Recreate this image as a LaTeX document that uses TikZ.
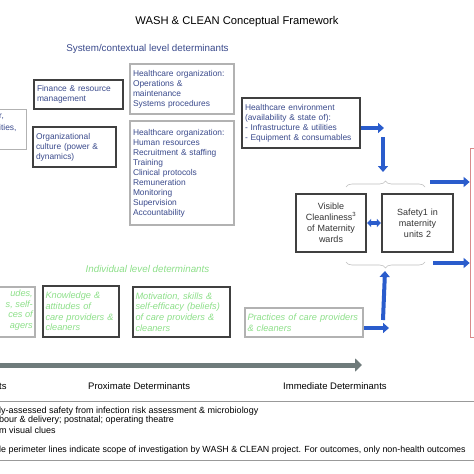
\documentclass[tikz,border=0pt]{standalone}
\usepackage{fontspec}
\setmainfont{Liberation Sans}
\usetikzlibrary{arrows.meta,decorations.pathreplacing}

\definecolor{txtblue}{HTML}{3A4A8C}
\definecolor{txtgreen}{HTML}{8EE08A}
\definecolor{arrblue}{HTML}{2A5CCC}
\definecolor{bigarr}{HTML}{6F7B7B}
\definecolor{outred}{HTML}{D88A8A}

\begin{document}
\begin{tikzpicture}[x=1pt, y=-1pt,
    box/.style = {draw=black!75, line width=2.2pt, rectangle, inner xsep=3pt, inner ysep=2pt, align=left, font=\fontsize{8.4}{10}\selectfont, text=txtblue},
    greybox/.style = {box, draw=gray!60},
    greenbox/.style = {box, inner xsep=2.5pt, text=txtgreen, font=\fontsize{9.2}{10.6}\selectfont\itshape},
    outbox/.style = {box, align=center, text=black!80, font=\fontsize{9}{11}\selectfont},
    barrow/.style = {draw=arrblue, line width=4pt, -{Triangle[length=6pt,width=10pt]}},
    brc/.style = {draw=gray!50, line width=0.6pt, decorate, decoration={brace, amplitude=6pt}},
    note/.style = {anchor=west, font=\fontsize{9}{10}\selectfont, inner sep=0pt}]

    \clip (0,0) rectangle (474,474);
    \fill[white] (0,0) rectangle (474,474);

    % Titles
    \node (title) at (237,22) {\fontsize{11.2}{13}\selectfont WASH \& CLEAN Conceptual Framework};
    \node[text=txtblue] (syslevel) at (147.5,49) {\fontsize{9.8}{11}\selectfont System/contextual level determinants};
    \node[text=txtgreen] (indlevel) at (147.5,269) {\fontsize{9.8}{11}\selectfont\itshape Individual level determinants};

    % System level boxes
    \node[box, draw=gray!60, line width=0.8pt, minimum width=36, minimum height=40] (ctx) at (8,129) {};
    \node[text=txtblue, anchor=west, inner sep=0pt, font=\fontsize{8.4}{10}\selectfont] (ctxa) at (-1,117) {r,};
    \node[text=txtblue, anchor=west, inner sep=0pt, font=\fontsize{8.4}{10}\selectfont] (ctxb) at (-1,128) {ities,};
    \node[box, text width=83, minimum height=29] (fin) at (78.5,94.5) {Finance \& resource\\management};
    \node[greybox, text width=98, minimum height=50] (ops) at (182,89) {Healthcare organization:\\Operations \&\\maintenance\\Systems procedures};
    \node[box, text width=77, minimum height=40] (cult) at (74.5,147) {Organizational\\culture (power \&\\dynamics)};
    \node[greybox, text width=98, minimum height=104] (hr) at (182,173) {Healthcare organization:\\Human resources\\Recruitment \& staffing\\Training\\Clinical protocols\\Remuneration\\Monitoring\\Supervision\\Accountability};
    \node[box, text width=112, minimum height=50] (env) at (301,123) {Healthcare environment\\(availability \& state of):\\- Infrastructure \& utilities\\- Equipment \& consumables};

    % Outcome boxes
    \node[outbox, text width=64, minimum height=58] (vis) at (331,223) {Visible\\Cleanliness\textsuperscript{3}\\of Maternity\\wards};
    \node[outbox, text width=65, minimum height=58] (safe) at (417.5,223) {Safety1 in\\maternity\\units 2};
    \node[draw=outred, line width=0.7pt, minimum width=30, minimum height=189] (outc) at (485,242.5) {};

    % Individual level boxes
    \node[greenbox, draw=gray!60, minimum width=42, minimum height=50] (mgr) at (14,312) {};
    \node[text=txtgreen, anchor=east, align=right, inner sep=0pt, font=\fontsize{9.2}{10.6}\selectfont\itshape] (mgrtxt) at (33,310) {udes,\\s, self-\\ces of\\agers};
    \node[greenbox, text width=71, minimum height=51] (knw) at (81,311.5) {Knowledge \&\\attitudes of\\care providers \&\\cleaners};
    \node[greenbox, text width=92, minimum height=50] (mot) at (181.5,312) {Motivation, skills \&\\self-efficacy (beliefs)\\of care providers \&\\cleaners};
    \node[greenbox, draw=gray!60, text width=113, minimum height=29] (prac) at (304,322.5) {Practices of care providers\\\& cleaners};

    % Braces
    \coordinate (btop) at (385,178);
    \coordinate (bbot) at (385,271);
    \draw[brc] (346,187) -- (425,187);
    \draw[brc] (425,262) -- (346,262);

    % Blue arrows
    \coordinate (envr) at (384,128);
    \coordinate (pracr) at (389,328);
    \draw[barrow] ([yshift=-5pt]env.east) -- (envr);
    \draw[barrow] (383,137) -- (383,172);
    \draw[barrow] (383,320) -- (bbot);
    \draw[barrow] ([yshift=-5.5pt]prac.east) -- (pracr);
    \draw[draw=arrblue, line width=4pt, {Triangle[length=4pt,width=8pt]}-{Triangle[length=4pt,width=8pt]}] (vis.east) -- (safe.west);
    \draw[barrow] (430,182) -- (outc.west |- 0,182);
    \draw[barrow] (433,263) -- (outc.west |- 0,263);

    % Determinant axis
    \coordinate (axs) at (-5,365);
    \coordinate (axe) at (362,365);
    \draw[draw=bigarr, line width=5pt, -{Triangle[length=7pt,width=13pt]}] (axs) -- (axe);
    \node[note, font=\fontsize{9.5}{11}\selectfont] (dist) at (-1,386) {ts};
    \node[note, font=\fontsize{9.5}{11}\selectfont] (prox) at (88,386) {Proximate Determinants};
    \node[note, font=\fontsize{9.5}{11}\selectfont] (imm) at (283,386) {Immediate Determinants};

    % Footnotes
    \draw[gray!80, line width=0.8pt] (0,401) -- (474,401);
    \node[note] (fn1) at (-1,411) {ly-assessed safety from infection risk assessment \& microbiology};
    \node[note] (fn2) at (-1,420.5) {bour \& delivery; postnatal; operating theatre};
    \node[note] (fn3) at (-1,430) {m visual clues};
    \node[note, font=\fontsize{8.9}{10}\selectfont] (fn4) at (-1,450) {le perimeter lines indicate scope of investigation by WASH \& CLEAN project. For outcomes, only non-health outcomes};
    \draw[gray!80, line width=0.8pt] (0,460) -- (474,460);

\end{tikzpicture}
\end{document}
